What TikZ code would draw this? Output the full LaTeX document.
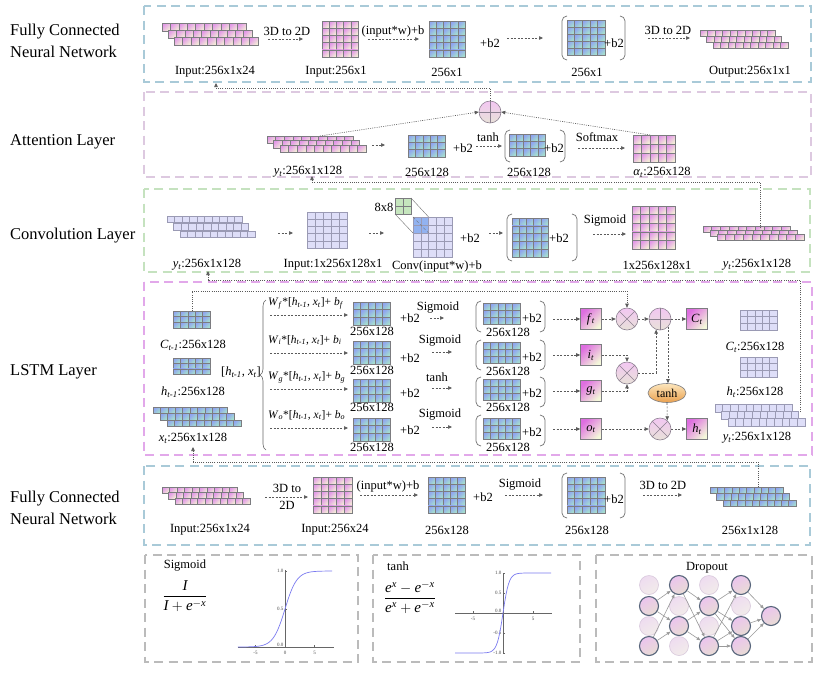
\documentclass[tikz,border=0pt]{standalone}
\usepackage{amsmath}
\usepackage{fontspec}
\setmainfont{Liberation Serif}
\usetikzlibrary{arrows.meta,decorations.pathreplacing,shapes.geometric,calc}

\definecolor{pkA}{HTML}{E296E8}
\definecolor{pkB}{HTML}{F4F0D6}
\definecolor{blA}{HTML}{8FA2F2}
\definecolor{blB}{HTML}{A6E2CC}
\definecolor{lav}{HTML}{DEDEF8}
\definecolor{lavline}{HTML}{9A9AB4}
\definecolor{cellline}{HTML}{7C7C80}
\definecolor{grn}{HTML}{C6E6BE}
\definecolor{cblue}{HTML}{92B2F0}
\definecolor{gtA}{HTML}{DE6EE0}
\definecolor{gtB}{HTML}{F4F8DA}
\definecolor{ciA}{HTML}{F2C6F2}
\definecolor{ciB}{HTML}{E8E2D8}
\definecolor{cirline}{HTML}{8C8090}
\definecolor{orA}{HTML}{FCE6BC}
\definecolor{orB}{HTML}{E9A04E}
\definecolor{fcline}{HTML}{A9CAD8}
\definecolor{attline}{HTML}{DDC9E0}
\definecolor{convline}{HTML}{C5E2BF}
\definecolor{lstmline}{HTML}{E2A8EA}
\definecolor{panline}{HTML}{BBBBBB}
\definecolor{arrcol}{HTML}{5A5A5A}
\definecolor{crv}{HTML}{7B7BF0}
\definecolor{dkb}{HTML}{56647A}
\definecolor{dA}{HTML}{EBC4EE}
\definecolor{dB}{HTML}{E8DCD4}
\definecolor{fA}{HTML}{EEDCF0}
\definecolor{fB}{HTML}{F2ECEA}
\definecolor{fline}{HTML}{D8C8DC}
\definecolor{narrcol}{HTML}{9A9A9A}

\newcommand\sub[1]{\textsubscript{\textit{#1}}}
\newcommand\cellgrid[7]{%
  \foreach \ci in {1,...,#3}{\foreach \cj in {1,...,#4}{%
    \path[#7] ({#1+(\ci-1)*#5},{#2+(\cj-1)*#6}) rectangle ++(#5,#6);}}}
\newcommand\cellstack[7]{%
  \foreach \sk in {0,1,2}{\cellgrid{#1+\sk*#5}{#2+\sk*#6}{10}{1}{#3}{#4}{#7}}}
\newcommand\brk[4]{%
  \draw[brkline] ({#1+5},#3) -- (#1,#3) -- (#1,#4) -- ({#1+5},#4);
  \draw[brkline] ({#2-5},#3) -- (#2,#3) -- (#2,#4) -- ({#2-5},#4);}

\begin{document}
\begin{tikzpicture}[x=1pt,y=-1pt,
  lbl/.style={font=\fontsize{12.5}{14}\selectfont, inner sep=1pt},
  flbl/.style={font=\fontsize{11.5}{13}\selectfont, inner sep=0pt},
  big/.style={font=\fontsize{16.5}{22}\selectfont, align=left, anchor=west, inner sep=0pt},
  fml/.style={font=\fontsize{15}{18}\selectfont, inner sep=0pt},
  tick/.style={font=\fontsize{5}{6}\selectfont, inner sep=0.5pt, text=black!70},
  frm/.style={line width=1.7pt, dash pattern=on 9pt off 5.5pt},
  pinkcell/.style={draw=cellline, line width=0.6pt, top color=pkA, bottom color=pkB, shading angle=45},
  bluecell/.style={draw=cellline, line width=0.6pt, top color=blA, bottom color=blB, shading angle=45},
  lavcell/.style={draw=lavline, line width=0.6pt, fill=lav},
  grncell/.style={draw=cellline, line width=0.6pt, fill=grn},
  cbluecell/.style={draw=lavline, line width=0.6pt, fill=cblue},
  brkline/.style={draw=black!55, line width=0.7pt, rounded corners=5pt},
  thinl/.style={draw=black!55, line width=0.4pt},
  darr/.style={draw=arrcol, line width=0.6pt, dash pattern=on 2pt off 1.5pt, -{Triangle[length=4pt,width=3.5pt]}},
  dotarr/.style={draw=arrcol, line width=0.6pt, dash pattern=on 1pt off 1.2pt, -{Triangle[length=4pt,width=3.5pt]}},
  narr/.style={draw=narrcol, line width=0.6pt, -{Triangle[length=4pt,width=3pt]}},
  circ/.style={circle, minimum size=22pt, inner sep=0pt, draw=cirline, line width=0.6pt, top color=ciA, bottom color=ciB},
  xline/.style={draw=cirline, line width=0.6pt},
  gate/.style={rectangle, minimum size=21pt, inner sep=0pt, draw=cellline, line width=0.6pt, top color=gtA, bottom color=gtB, shading angle=45, font=\fontsize{12.5}{14}\selectfont},
  tanhe/.style={ellipse, minimum width=38pt, minimum height=19pt, inner sep=0pt, draw=cellline, line width=0.6pt, top color=orA, bottom color=orB, font=\fontsize{12}{14}\selectfont},
  axl/.style={draw=black!60, line width=0.4pt},
  crvline/.style={draw=crv, line width=0.7pt},
  brace/.style={decorate, decoration={brace, amplitude=6pt}, draw=black!60, line width=0.6pt},
  dact/.style={circle, minimum size=19pt, inner sep=0pt, draw=dkb, line width=1.1pt, top color=dA, bottom color=dB, shading angle=30},
  dfad/.style={circle, minimum size=19pt, inner sep=0pt, draw=fline, line width=0.6pt, top color=fA, bottom color=fB, shading angle=30}
]
\useasboundingbox (0,0) rectangle (822,673);
\fill[white] (0,0) rectangle (822,673);

% ---------- frames
\draw[frm, fcline]   (144,6) rectangle (811,82);
\draw[frm, attline]  (144,92) rectangle (811,177);
\draw[frm, convline] (144,189) rectangle (810,272);
\draw[frm, lstmline] (144,282) rectangle (812,455);
\draw[frm, fcline]   (144,466) rectangle (810,545);
\draw[frm, panline]  (145,555) rectangle (358,662);
\draw[frm, panline]  (373,555) rectangle (580,662);
\draw[frm, panline]  (596,555) rectangle (812,662);

% ---------- left labels
\node[big] (L1) at (10,41) {Fully Connected\\Neural Network};
\node[big] (L2) at (10,142) {Attention Layer};
\node[big] (L3) at (10,236) {Convolution Layer};
\node[big] (L4) at (10,372) {LSTM Layer};
\node[big] (L5) at (10,508) {Fully Connected\\Neural Network};

% ---------- top fully connected
\cellstack{162}{23}{8.4}{8.5}{6}{7}{pinkcell}
\node[lbl] (t1) at (215,72) {Input:256x1x24};
\node[lbl] (t2) at (287,31) {3D to 2D};
\draw[darr] (268,39) -- (303,39);
\cellgrid{322}{21}{5}{5}{7.2}{7.2}{pinkcell}
\node[lbl] (t3) at (336,72) {Input:256x1};
\node[lbl] (t4) at (393,31) {(input*w)+b};
\draw[darr] (368,39) -- (419,39);
\cellgrid{429}{21}{5}{5}{7.2}{7.2}{bluecell}
\node[lbl] (t5) at (447,72) {256x1};
\node[lbl] (t6) at (490,43) {+b2};
\draw[darr] (507,38) -- (543,38);
\brk{562}{625}{16}{60}
\cellgrid{567}{20}{5}{5}{7.6}{7}{bluecell}
\node[lbl] (t7) at (614,43) {+b2};
\node[lbl] (t8) at (587,72) {256x1};
\node[lbl] (t9) at (668,30) {3D to 2D};
\draw[darr] (648,38) -- (690,38);
\cellstack{700}{30}{7.5}{6}{6.5}{6}{pinkcell}
\node[lbl] (t10) at (750,72) {Output:256x1x1};

% ---------- attention
\cellstack{267}{136}{8.6}{7.5}{6.5}{4.5}{pinkcell}
\node[lbl] (a1) at (308,172) {\textit{y}\sub{t}:256x1x128};
\draw[darr] (372,145) -- (385,145);
\cellgrid{408}{135}{5}{3}{7.4}{7.3}{bluecell}
\node[lbl] (a2) at (427,172) {256x128};
\node[lbl] (a3) at (463,148) {+b2};
\node[lbl] (a4) at (488,137) {tanh};
\draw[darr] (476,146) -- (502,146);
\brk{505}{565}{130}{162}
\cellgrid{509}{134}{5}{3}{7.2}{7.3}{bluecell}
\node[lbl] (a5) at (554,148) {+b2};
\node[lbl] (a6) at (529,172) {256x128};
\node[lbl] (a7) at (597,137) {Softmax};
\draw[darr] (578,148) -- (625,148);
\cellgrid{633}{135}{5}{3}{8.4}{9}{pinkcell}
\node[lbl] (a8) at (662,172) {\textit{α}\sub{t}:256x128};
\node[circ] (att) at (490,112) {};
\draw[xline] (att.north) -- (att.south) (att.east) -- (att.west);
\draw[dotarr] (320,136) -- (att.west);
\draw[dotarr] (650,135) -- (att.east);
\draw[dotarr] (att.north) -- (490,88) -| (216,83);

% ---------- convolution
\cellstack{167}{216}{7.5}{6.5}{6.5}{7.5}{lavcell}
\node[lbl] (c1) at (207,265) {\textit{y}\sub{t}:256x1x128};
\draw[darr] (278,233) -- (293,233);
\cellgrid{307}{212}{5}{5}{8}{7.2}{lavcell}
\node[lbl] (c2) at (333,265) {Input:1x256x128x1};
\draw[darr] (369,233) -- (384,233);
\cellgrid{395}{198}{2}{2}{8}{8}{grncell}
\node[lbl] (c3) at (384,207) {8x8};
\cellgrid{413}{217}{5}{5}{7.8}{8}{lavcell}
\cellgrid{413}{217}{2}{2}{7.8}{8}{cbluecell}
\draw[thinl] (411,198) -- (428.6,217);
\draw[thinl] (395,214) -- (413,233);
\draw[thinl, densely dashed] (413,217) -- (428.6,233);
\node[lbl] (c4) at (470,238) {+b2};
\node[lbl] (c5) at (437,266) {Conv(input*w)+b};
\draw[darr] (489,233) -- (503,233);
\brk{507}{577}{214}{261}
\cellgrid{512}{218}{5}{5}{7.2}{7.8}{bluecell}
\node[lbl] (c6) at (559,238) {+b2};
\node[lbl] (c7) at (605,221) {Sigmoid};
\draw[darr] (593,234) -- (626,234);
\cellgrid{632}{206}{5}{5}{8.6}{8.6}{pinkcell}
\node[lbl] (c8) at (657,265) {1x256x128x1};
\cellstack{703}{226}{8.7}{6.5}{7}{4}{pinkcell}
\node[lbl] (c9) at (757,265) {\textit{y}\sub{t}:256x1x128};

% ---------- LSTM
\cellgrid{173}{311}{5}{3}{7.4}{5.7}{bluecell}
\node[lbl] (s1) at (193,345) {\textit{C}\sub{t-1}:256x128};
\cellgrid{173}{358}{5}{3}{7.4}{5.4}{bluecell}
\node[lbl] (s2) at (193,392) {\textit{h}\sub{t-1}:256x128};
\cellstack{153}{407}{7.4}{6.5}{7}{6.5}{bluecell}
\node[lbl] (s3) at (193,438) {\textit{x}\sub{t}:256x1x128};
\node[lbl] (s4) at (241,372) {[\textit{h}\sub{t-1}, \textit{x}\sub{t}]};
\draw[brace] (266,450) -- (266,300);

\foreach \g/\yl/\ya/\yg/\yn/\yb in {f/303/315/302/331/318, i/340/353/341/370/358, g/377/389/379/407/393, o/415/428/418/447/430}{
  \node[flbl, anchor=west] (w\g) at (268,\yl) {\textit{W}\sub{\g}*[\textit{h}\sub{t-1}, \textit{x}\sub{t}]+ \textit{b}\sub{\g}};
  \draw[darr] (270,\ya) -- (348,\ya);
  \cellgrid{353}{\yg}{5}{3}{7.4}{7.6}{bluecell}
  \node[lbl] (n\g) at (372,\yn) {256x128};
  \node[lbl] (b\g) at (410,\yb) {+b2};
}
\node[lbl] (sf) at (438,308) {Sigmoid};
\draw[darr] (430,318) -- (444,318);
\node[lbl] (si) at (440,341) {Sigmoid};
\draw[darr] (432,352) -- (452,352);
\node[lbl] (sg) at (437,377) {tanh};
\draw[darr] (432,388) -- (452,388);
\node[lbl] (so) at (440,415) {Sigmoid};
\draw[darr] (432,427) -- (452,427);

\foreach \k/\yt/\yb/\yg/\yn/\yp in {1/301/332/303/332/318, 2/340/370/342/371/357, 3/377/407/379/407/393, 4/415/446/418/447/432}{
  \brk{476}{545}{\yt}{\yb}
  \cellgrid{483}{\yg}{5}{3}{7.4}{7.2}{bluecell}
  \node[lbl] (r\k) at (508,\yn) {256x128};
  \node[lbl] (q\k) at (532,\yp) {+b2};
}

\node[gate] (ft) at (591,319) {\textit{f}\sub{t}};
\node[gate] (it) at (591,355) {\textit{i}\sub{t}};
\node[gate] (gt) at (591,391) {\textit{g}\sub{t}};
\node[gate] (ot) at (591,429) {\textit{o}\sub{t}};
\node[gate] (Ct) at (697,319) {\textit{C}\sub{t}};
\node[gate] (ht) at (697,429) {\textit{h}\sub{t}};
\foreach \n in {ft,it,gt,ot} \draw[darr] ([xshift=-27pt]\n.west) -- (\n.west);
\node[circ] (m1) at (627,319) {};
\node[circ] (p1) at (660,319) {};
\node[circ] (m2) at (627,373) {};
\node[circ] (m3) at (660,429) {};
\node[tanhe] (th) at (667,393) {tanh};
\foreach \n in {m1,m2,m3} \draw[xline] (\n.45) -- (\n.225) (\n.135) -- (\n.315);
\draw[xline] (p1.north) -- (p1.south) (p1.east) -- (p1.west);
\draw[darr] (ft) -- (m1);
\draw[darr] (m1) -- (p1);
\draw[darr] (p1) -- (Ct);
\draw[darr] (it.east) -| (m2.north);
\draw[darr] (gt.east) -| (m2.south);
\draw[darr] (m2.east) -| (p1.250);
\draw[darr] (p1.-45) -- (p1.-45 |- th.north);
\draw[darr] (th.south) -- (m3.50);
\draw[darr] (ot) -- (m3);
\draw[darr] (m3) -- (ht);
\draw[dotarr] (192,311) -- (192,291) -| (m1.north);

\cellgrid{740}{310}{5}{3}{7.4}{6.7}{lavcell}
\node[lbl] (s5) at (755,347) {\textit{C}\sub{t}:256x128};
\cellgrid{740}{357}{5}{3}{7.4}{6.7}{lavcell}
\node[lbl] (s6) at (755,392) {\textit{h}\sub{t}:256x128};
\cellstack{715}{404}{7.7}{8}{6.5}{7}{lavcell}
\node[lbl] (s7) at (757,438) {\textit{y}\sub{t}:256x1x128};

% ---------- long connectors
\draw[dotarr] (800,412) -- (800,280) -| (208,271);
\draw[dotarr] (760,228) -- (760,182) -| (312,176);
\draw[dotarr] (758,487) -- (758,462) -| (193,447);

% ---------- bottom fully connected
\cellstack{162}{487}{7.5}{6.5}{6.5}{5.5}{pinkcell}
\node[lbl] (u1) at (210,530) {Input:256x1x24};
\node[lbl] (u2) at (287,488) {3D to};
\node[lbl] (u3) at (287,505) {2D};
\draw[darr] (265,497) -- (308,497);
\cellgrid{313}{477}{5}{5}{7.8}{7.2}{pinkcell}
\node[lbl] (u4) at (335,530) {Input:256x24};
\node[lbl] (u5) at (388,486) {(input*w)+b};
\draw[darr] (360,495) -- (418,495);
\cellgrid{428}{477}{5}{5}{7.4}{7.2}{bluecell}
\node[lbl] (u6) at (447,530) {256x128};
\node[lbl] (u7) at (483,497) {+b2};
\node[lbl] (u8) at (520,485) {Sigmoid};
\draw[darr] (505,495) -- (543,495);
\brk{562}{625}{473}{518}
\cellgrid{567}{477}{5}{5}{7.6}{7.2}{bluecell}
\node[lbl] (u9) at (614,499) {+b2};
\node[lbl] (u10) at (587,530) {256x128};
\node[lbl] (u11) at (663,485) {3D to 2D};
\draw[darr] (643,495) -- (682,495);
\cellstack{710}{487}{7.3}{6.5}{6.5}{6.5}{bluecell}
\node[lbl] (u12) at (750,530) {256x1x128};

% ---------- sigmoid panel
\node[lbl] (v1) at (185,566) {Sigmoid};
\node[fml] (v2) at (185,596) {$\displaystyle\frac{\textit{I}}{\textit{I}+\textit{e}^{-\textit{x}}}$};
\draw[axl] (238,647) -- (334,647);
\draw[axl] (285,647) -- (285,570);
\foreach \t in {-5,0,5} \draw[axl] ({285+5.9*\t},647) -- ++(0,-2);
\foreach \v in {0.5,1} \draw[axl] (285,{647-76*\v}) -- ++(2,0);
\node[tick, anchor=east] (v3) at (284,571) {1.0};
\node[tick, anchor=east] (v4) at (284,609) {0.5};
\node[tick, anchor=east] (v5) at (284,645) {0.0};
\node[tick] (v6) at (255.5,653) {-5};
\node[tick] (v7) at (285,653) {0};
\node[tick] (v8) at (314.5,653) {5};
\draw[crvline] plot[domain=-8:8, samples=80] ({285+5.9*\x},{647-76/(1+exp(-\x))});

% ---------- tanh panel
\node[lbl] (w1) at (398,566) {tanh};
\node[fml] (w2) at (410,597) {$\displaystyle\frac{\textit{e}^{\textit{x}}-\textit{e}^{-\textit{x}}}{\textit{e}^{\textit{x}}+\textit{e}^{-\textit{x}}}$};
\draw[axl] (455,613) -- (552,613);
\draw[axl] (503,573) -- (503,653);
\foreach \t in {-5,5} \draw[axl] ({503+6*\t},613) -- ++(0,-2);
\foreach \v in {-1,-0.5,0.5,1} \draw[axl] (503,{613-40*\v}) -- ++(2,0);
\node[tick, anchor=east] (w3) at (502,573) {1.0};
\node[tick, anchor=east] (w4) at (502,593) {0.5};
\node[tick, anchor=east] (w5) at (502,611) {0.0};
\node[tick, anchor=east] (w6) at (502,633) {-0.5};
\node[tick, anchor=east] (w7) at (502,653) {-1.0};
\node[tick] (w8) at (473,619) {-5};
\node[tick] (w9) at (533,619) {5};
\draw[crvline] plot[domain=-8:8, samples=80] ({503+6*\x},{613-40*tanh(\x)});

% ---------- dropout panel
\node[lbl] (x1) at (707,568) {Dropout};
\node[dfad] (d11) at (649,585) {};
\node[dact] (d12) at (649,606) {};
\node[dfad] (d13) at (649,626) {};
\node[dact] (d14) at (649,646) {};
\node[dact] (d21) at (679,585) {};
\node[dfad] (d22) at (679,606) {};
\node[dact] (d23) at (679,626) {};
\node[dfad] (d24) at (679,646) {};
\node[dfad] (d31) at (709,585) {};
\node[dact] (d32) at (709,606) {};
\node[dfad] (d33) at (709,626) {};
\node[dact] (d34) at (709,646) {};
\node[dact] (d41) at (741,585) {};
\node[dfad] (d42) at (741,606) {};
\node[dact] (d43) at (741,626) {};
\node[dact] (d44) at (741,646) {};
\node[dact] (dout) at (771,616) {};
\foreach \a/\b in {d12/d21, d12/d23, d14/d21, d14/d23, d21/d32, d21/d34, d23/d32, d23/d34, d32/d41, d32/d43, d32/d44, d34/d41, d34/d43, d34/d44, d41/dout, d43/dout, d44/dout}
  \draw[narr] (\a) -- (\b);
\end{tikzpicture}
\end{document}
